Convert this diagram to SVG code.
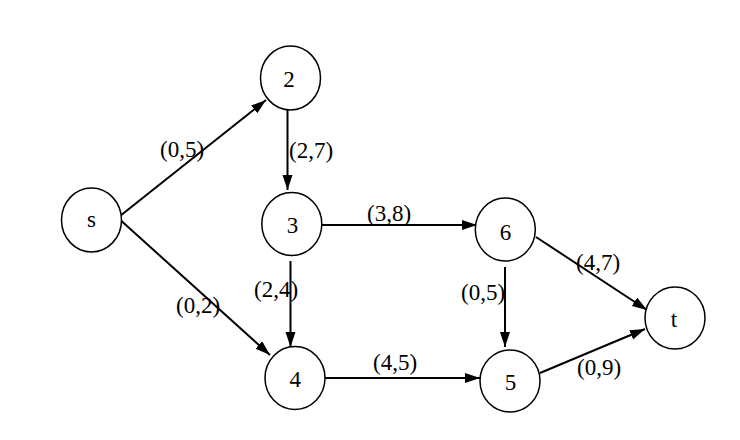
<svg xmlns="http://www.w3.org/2000/svg" width="740" height="440" viewBox="0 0 740 440">
<style>
.node ellipse{fill:#fff;stroke:#000;stroke-width:1.5}
text{font-family:"Liberation Serif","Times New Roman",serif;font-size:23px;fill:#000}
.nl{text-anchor:middle}
.edges line{stroke:#000;stroke-width:2}
</style>
<defs>
<marker id="ah" markerUnits="userSpaceOnUse" markerWidth="16" markerHeight="12" refX="15" refY="5" orient="auto">
<path d="M0,0 L15,5 L0,10 z" fill="#000"/>
</marker>
</defs>
<rect width="740" height="440" fill="#fff"/>
<g id="connectors" class="edges">
<line x1="120" y1="216" x2="266" y2="100" marker-end="url(#ah)"/>
<line x1="287.5" y1="110" x2="287.5" y2="190" marker-end="url(#ah)"/>
<line x1="117" y1="217" x2="270" y2="355" marker-end="url(#ah)"/>
<line x1="322" y1="225" x2="477" y2="225" marker-end="url(#ah)"/>
<line x1="290.5" y1="261" x2="290.5" y2="347" marker-end="url(#ah)"/>
<line x1="325" y1="378" x2="480" y2="378" marker-end="url(#ah)"/>
<line x1="505" y1="267" x2="505" y2="347" marker-end="url(#ah)"/>
<line x1="536" y1="237" x2="647" y2="310" marker-end="url(#ah)"/>
<line x1="540" y1="373" x2="645" y2="329" marker-end="url(#ah)"/>
</g>
<g id="edge-labels">
<text x="160" y="157">(0,5)</text>
<text x="289" y="158">(2,7)</text>
<text x="176" y="313">(0,2)</text>
<text x="367" y="221">(3,8)</text>
<text x="254" y="297">(2,4)</text>
<text x="461" y="300">(0,5)</text>
<text x="373" y="370">(4,5)</text>
<text x="576" y="270">(4,7)</text>
<text x="577" y="375">(0,9)</text>
</g>
<g id="node-s" class="node"><ellipse cx="91.5" cy="220" rx="30" ry="32"/><text class="nl" x="91.5" y="227">s</text></g>
<g id="node-2" class="node"><ellipse cx="290.5" cy="78" rx="30" ry="32"/><text class="nl" x="289" y="87">2</text></g>
<g id="node-3" class="node"><ellipse cx="291.8" cy="224" rx="30" ry="31.5"/><text class="nl" x="292.5" y="233">3</text></g>
<g id="node-6" class="node"><ellipse cx="505.3" cy="229.5" rx="30" ry="31.5"/><text class="nl" x="505.5" y="240">6</text></g>
<g id="node-4" class="node"><ellipse cx="295" cy="378" rx="30" ry="31.5"/><text class="nl" x="295.3" y="387">4</text></g>
<g id="node-5" class="node"><ellipse cx="510" cy="381" rx="30" ry="31"/><text class="nl" x="510.5" y="390">5</text></g>
<g id="node-t" class="node"><ellipse cx="675" cy="318" rx="30" ry="31"/><text class="nl" x="674" y="327">t</text></g>
</svg>
